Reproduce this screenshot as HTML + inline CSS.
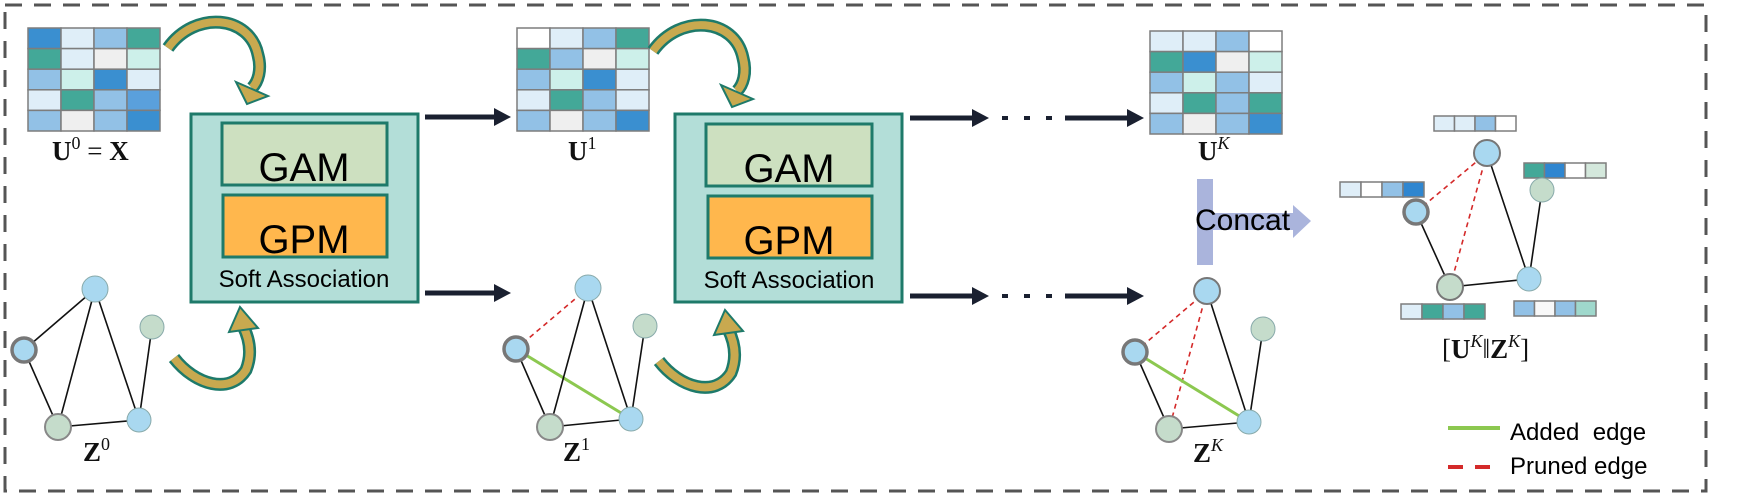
<!DOCTYPE html>
<html><head><meta charset="utf-8"><style>
html,body{margin:0;padding:0;background:#fff;}
svg{display:block}
.m{font-family:"Liberation Serif",serif;font-size:27px;font-weight:bold;fill:#111}
.s{font-family:"Liberation Serif",serif;font-size:18px;font-weight:normal;font-style:normal}
.si{font-family:"Liberation Serif",serif;font-size:18px;font-style:italic;font-weight:normal}
.t{font-family:"Liberation Sans",sans-serif;fill:#000}
</style></head><body>
<svg width="1738" height="498" viewBox="0 0 1738 498" xmlns="http://www.w3.org/2000/svg">
<rect x="5" y="5" width="1701" height="486" fill="none" stroke="#555" stroke-width="3" stroke-dasharray="17,12"/>

<g stroke="#7d7d7d" stroke-width="1.5">
<g transform="translate(28,28)">
<rect x="0" y="0" width="33" height="20.6" fill="#3a8fd0"/><rect x="33" y="0" width="33" height="20.6" fill="#dfeef8"/><rect x="66" y="0" width="33" height="20.6" fill="#92c1e6"/><rect x="99" y="0" width="33" height="20.6" fill="#43a898"/>
<rect x="0" y="20.6" width="33" height="20.6" fill="#43a898"/><rect x="33" y="20.6" width="33" height="20.6" fill="#dfeef8"/><rect x="66" y="20.6" width="33" height="20.6" fill="#efefef"/><rect x="99" y="20.6" width="33" height="20.6" fill="#cdf0ea"/>
<rect x="0" y="41.2" width="33" height="20.6" fill="#92c1e6"/><rect x="33" y="41.2" width="33" height="20.6" fill="#cdf0ea"/><rect x="66" y="41.2" width="33" height="20.6" fill="#3a8fd0"/><rect x="99" y="41.2" width="33" height="20.6" fill="#dfeef8"/>
<rect x="0" y="61.8" width="33" height="20.6" fill="#dfeef8"/><rect x="33" y="61.8" width="33" height="20.6" fill="#43a898"/><rect x="66" y="61.8" width="33" height="20.6" fill="#92c1e6"/><rect x="99" y="61.8" width="33" height="20.6" fill="#5aa0dc"/>
<rect x="0" y="82.4" width="33" height="20.6" fill="#92c1e6"/><rect x="33" y="82.4" width="33" height="20.6" fill="#efefef"/><rect x="66" y="82.4" width="33" height="20.6" fill="#92c1e6"/><rect x="99" y="82.4" width="33" height="20.6" fill="#3a8fd0"/>
</g>
<g transform="translate(517,28)">
<rect x="0" y="0" width="33" height="20.6" fill="#ffffff"/><rect x="33" y="0" width="33" height="20.6" fill="#dfeef8"/><rect x="66" y="0" width="33" height="20.6" fill="#92c1e6"/><rect x="99" y="0" width="33" height="20.6" fill="#43a898"/>
<rect x="0" y="20.6" width="33" height="20.6" fill="#43a898"/><rect x="33" y="20.6" width="33" height="20.6" fill="#92c1e6"/><rect x="66" y="20.6" width="33" height="20.6" fill="#efefef"/><rect x="99" y="20.6" width="33" height="20.6" fill="#cdf0ea"/>
<rect x="0" y="41.2" width="33" height="20.6" fill="#92c1e6"/><rect x="33" y="41.2" width="33" height="20.6" fill="#cdf0ea"/><rect x="66" y="41.2" width="33" height="20.6" fill="#3a8fd0"/><rect x="99" y="41.2" width="33" height="20.6" fill="#dfeef8"/>
<rect x="0" y="61.8" width="33" height="20.6" fill="#dfeef8"/><rect x="33" y="61.8" width="33" height="20.6" fill="#43a898"/><rect x="66" y="61.8" width="33" height="20.6" fill="#92c1e6"/><rect x="99" y="61.8" width="33" height="20.6" fill="#dfeef8"/>
<rect x="0" y="82.4" width="33" height="20.6" fill="#92c1e6"/><rect x="33" y="82.4" width="33" height="20.6" fill="#efefef"/><rect x="66" y="82.4" width="33" height="20.6" fill="#92c1e6"/><rect x="99" y="82.4" width="33" height="20.6" fill="#3a8fd0"/>
</g>
<g transform="translate(1150,31)">
<rect x="0" y="0" width="33" height="20.6" fill="#dfeef8"/><rect x="33" y="0" width="33" height="20.6" fill="#dfeef8"/><rect x="66" y="0" width="33" height="20.6" fill="#92c1e6"/><rect x="99" y="0" width="33" height="20.6" fill="#ffffff"/>
<rect x="0" y="20.6" width="33" height="20.6" fill="#43a898"/><rect x="33" y="20.6" width="33" height="20.6" fill="#3a8fd0"/><rect x="66" y="20.6" width="33" height="20.6" fill="#efefef"/><rect x="99" y="20.6" width="33" height="20.6" fill="#cdf0ea"/>
<rect x="0" y="41.2" width="33" height="20.6" fill="#92c1e6"/><rect x="33" y="41.2" width="33" height="20.6" fill="#cdf0ea"/><rect x="66" y="41.2" width="33" height="20.6" fill="#92c1e6"/><rect x="99" y="41.2" width="33" height="20.6" fill="#dfeef8"/>
<rect x="0" y="61.8" width="33" height="20.6" fill="#dfeef8"/><rect x="33" y="61.8" width="33" height="20.6" fill="#43a898"/><rect x="66" y="61.8" width="33" height="20.6" fill="#92c1e6"/><rect x="99" y="61.8" width="33" height="20.6" fill="#43a898"/>
<rect x="0" y="82.4" width="33" height="20.6" fill="#92c1e6"/><rect x="33" y="82.4" width="33" height="20.6" fill="#efefef"/><rect x="66" y="82.4" width="33" height="20.6" fill="#92c1e6"/><rect x="99" y="82.4" width="33" height="20.6" fill="#3a8fd0"/>
</g>
<g transform="translate(1434,116)"><rect width="20.5" height="15" fill="#dfeef8"/><rect x="20.5" width="20.5" height="15" fill="#dfeef8"/><rect x="41" width="20.5" height="15" fill="#92c1e6"/><rect x="61.5" width="20.5" height="15" fill="#fff"/></g>
<g transform="translate(1340,182)"><rect width="21" height="15" fill="#dfeef8"/><rect x="21" width="21" height="15" fill="#fff"/><rect x="42" width="21" height="15" fill="#92c1e6"/><rect x="63" width="21" height="15" fill="#2f86d0"/></g>
<g transform="translate(1524,163)"><rect width="20.5" height="15" fill="#43a898"/><rect x="20.5" width="20.5" height="15" fill="#2f86d0"/><rect x="41" width="20.5" height="15" fill="#fff"/><rect x="61.5" width="20.5" height="15" fill="#d4e8dc"/></g>
<g transform="translate(1401,304)"><rect width="21" height="15" fill="#dfeef8"/><rect x="21" width="21" height="15" fill="#43a898"/><rect x="42" width="21" height="15" fill="#92c1e6"/><rect x="63" width="21" height="15" fill="#43a898"/></g>
<g transform="translate(1514,301)"><rect width="20.5" height="15" fill="#92c1e6"/><rect x="20.5" width="20.5" height="15" fill="#f8f8f8"/><rect x="41" width="20.5" height="15" fill="#92c1e6"/><rect x="61.5" width="20.5" height="15" fill="#9fd8cc"/></g>
</g>

<text class="m" x="52" y="160">U<tspan class="s" dy="-11">0</tspan><tspan dy="11" font-weight="normal"> = </tspan>X</text>
<text class="m" x="568" y="160">U<tspan class="s" dy="-11">1</tspan></text>
<text class="m" x="1198" y="160">U<tspan class="si" dy="-11">K</tspan></text>
<text class="m" x="83" y="461">Z<tspan class="s" dy="-11">0</tspan></text>
<text class="m" x="563" y="461">Z<tspan class="s" dy="-11">1</tspan></text>
<text class="m" x="1193" y="462">Z<tspan class="si" dy="-11">K</tspan></text>
<text class="m" x="1442" y="358"><tspan font-weight="normal">[</tspan>U<tspan class="si" dy="-11">K</tspan><tspan dy="11" font-weight="normal">‖</tspan>Z<tspan class="si" dy="-11">K</tspan><tspan dy="11" font-weight="normal">]</tspan></text>

<g>
<rect x="191" y="114" width="227" height="188" fill="#b3ded8" stroke="#1e7a6a" stroke-width="3"/>
<rect x="222" y="123" width="165" height="62" fill="#cde0c0" stroke="#1e7a6a" stroke-width="3"/>
<rect x="223" y="195" width="164" height="62" fill="#ffb74d" stroke="#1e7a6a" stroke-width="3"/>
<text class="t" x="304" y="181" font-size="40" text-anchor="middle">GAM</text>
<text class="t" x="304" y="253" font-size="40" text-anchor="middle">GPM</text>
<text class="t" x="304" y="287" font-size="24" text-anchor="middle">Soft Association</text>
</g>
<g>
<rect x="675" y="114" width="227" height="188" fill="#b3ded8" stroke="#1e7a6a" stroke-width="3"/>
<rect x="706" y="124" width="166" height="62" fill="#cde0c0" stroke="#1e7a6a" stroke-width="3"/>
<rect x="708" y="196" width="164" height="62" fill="#ffb74d" stroke="#1e7a6a" stroke-width="3"/>
<text class="t" x="789" y="182" font-size="40" text-anchor="middle">GAM</text>
<text class="t" x="789" y="254" font-size="40" text-anchor="middle">GPM</text>
<text class="t" x="789" y="288" font-size="24" text-anchor="middle">Soft Association</text>
</g>

<g id="ca" fill="none">
<g>
<path d="M168,48 C195,10 250,15 258,55 C262,70 258,82 252,88" stroke="#1e7a6a" stroke-width="13"/>
<path d="M168,48 C195,10 250,15 258,55 C262,70 258,82 252,88" stroke="#c8a94f" stroke-width="8"/>
<polygon points="236,82 268,96 247,104" fill="#c8a94f" stroke="#1e7a6a" stroke-width="2"/>
</g>
<g>
<path d="M174,358 C195,385 230,395 246,370 C252,355 250,340 243,326" stroke="#1e7a6a" stroke-width="13"/>
<path d="M174,358 C195,385 230,395 246,370 C252,355 250,340 243,326" stroke="#c8a94f" stroke-width="8"/>
<polygon points="229,332 240,307 258,328" fill="#c8a94f" stroke="#1e7a6a" stroke-width="2"/>
</g>
</g>
<use href="#ca" transform="translate(485,3)"/>

<g stroke="#1a2030" stroke-width="5" fill="#1a2030">
<line x1="425" y1="117" x2="496" y2="117"/><polygon points="494,108 511,117 494,126" stroke="none"/>
<line x1="425" y1="293" x2="496" y2="293"/><polygon points="494,284 511,293 494,302" stroke="none"/>
<line x1="910" y1="118" x2="975" y2="118"/><polygon points="972,109 989,118 972,127" stroke="none"/>
<line x1="910" y1="296" x2="975" y2="296"/><polygon points="972,287 989,296 972,305" stroke="none"/>
<line x1="1065" y1="118" x2="1130" y2="118"/><polygon points="1127,109 1144,118 1127,127" stroke="none"/>
<line x1="1065" y1="296" x2="1130" y2="296"/><polygon points="1127,287 1144,296 1127,305" stroke="none"/>
<line x1="1002" y1="118" x2="1052" y2="118" stroke-dasharray="6,16" stroke-width="4"/>
<line x1="1002" y1="296" x2="1052" y2="296" stroke-dasharray="6,16" stroke-width="4"/>
</g>

<rect x="1197" y="179" width="16" height="86" fill="#aab4dc"/>
<polygon points="1213,213 1293,213 1293,205 1311,221 1293,238 1293,230 1213,230" fill="#aab4dc"/>
<text class="t" x="1195" y="230" font-size="30">Concat</text>

<g stroke-width="1.6">
<g stroke="#111"><line x1="24" y1="350" x2="95" y2="289"/><line x1="24" y1="350" x2="58" y2="427"/><line x1="95" y1="289" x2="58" y2="427"/><line x1="95" y1="289" x2="139" y2="420"/><line x1="58" y1="427" x2="139" y2="420"/><line x1="152" y1="327" x2="139" y2="420"/></g>
<line x1="516" y1="349" x2="588" y2="288" stroke="#d42a2a" stroke-dasharray="5,4"/>
<line x1="516" y1="349" x2="631" y2="419" stroke="#8cc850" stroke-width="3"/>
<g stroke="#111"><line x1="516" y1="349" x2="550" y2="427"/><line x1="588" y1="288" x2="550" y2="427"/><line x1="588" y1="288" x2="631" y2="419"/><line x1="550" y1="427" x2="631" y2="419"/><line x1="645" y1="326" x2="631" y2="419"/></g>
<line x1="1135" y1="352" x2="1207" y2="291" stroke="#d42a2a" stroke-dasharray="5,4"/>
<line x1="1207" y1="291" x2="1169" y2="429" stroke="#d42a2a" stroke-dasharray="5,4"/>
<line x1="1135" y1="352" x2="1249" y2="422" stroke="#8cc850" stroke-width="3"/>
<g stroke="#111"><line x1="1135" y1="352" x2="1169" y2="429"/><line x1="1207" y1="291" x2="1249" y2="422"/><line x1="1169" y1="429" x2="1249" y2="422"/><line x1="1263" y1="329" x2="1249" y2="422"/></g>
<line x1="1416" y1="212" x2="1487" y2="153" stroke="#d42a2a" stroke-dasharray="5,4"/>
<line x1="1487" y1="153" x2="1450" y2="287" stroke="#d42a2a" stroke-dasharray="5,4"/>
<g stroke="#111"><line x1="1416" y1="212" x2="1450" y2="287"/><line x1="1487" y1="153" x2="1529" y2="279"/><line x1="1450" y1="287" x2="1529" y2="279"/><line x1="1542" y1="190" x2="1529" y2="279"/></g>
</g>
<g stroke="#8aa" stroke-width="1">
<circle cx="95" cy="289" r="13" fill="#a9d8f0"/><circle cx="24" cy="350" r="12" fill="#a9d8f0" stroke="#777" stroke-width="3.5"/><circle cx="58" cy="427" r="13" fill="#c5dccb" stroke="#888" stroke-width="2"/><circle cx="139" cy="420" r="12" fill="#a9d8f0"/><circle cx="152" cy="327" r="12" fill="#c5dccb"/>
<circle cx="588" cy="288" r="13" fill="#a9d8f0"/><circle cx="516" cy="349" r="12" fill="#a9d8f0" stroke="#777" stroke-width="3.5"/><circle cx="550" cy="427" r="13" fill="#c5dccb" stroke="#888" stroke-width="2"/><circle cx="631" cy="419" r="12" fill="#a9d8f0"/><circle cx="645" cy="326" r="12" fill="#c5dccb"/>
<circle cx="1207" cy="291" r="13" fill="#a9d8f0" stroke="#777" stroke-width="2"/><circle cx="1135" cy="352" r="12" fill="#a9d8f0" stroke="#777" stroke-width="3.5"/><circle cx="1169" cy="429" r="13" fill="#c5dccb" stroke="#888" stroke-width="2"/><circle cx="1249" cy="422" r="12" fill="#a9d8f0"/><circle cx="1263" cy="329" r="12" fill="#c5dccb"/>
<circle cx="1487" cy="153" r="13" fill="#a9d8f0" stroke="#777" stroke-width="2"/><circle cx="1416" cy="212" r="12" fill="#a9d8f0" stroke="#777" stroke-width="3.5"/><circle cx="1450" cy="287" r="13" fill="#c5dccb" stroke="#777" stroke-width="2"/><circle cx="1529" cy="279" r="12" fill="#a9d8f0"/><circle cx="1542" cy="190" r="12" fill="#c5dccb"/>
</g>

<line x1="1448" y1="428" x2="1500" y2="428" stroke="#8cc850" stroke-width="4"/>
<line x1="1448" y1="467" x2="1500" y2="467" stroke="#d42a2a" stroke-width="4" stroke-dasharray="15,12"/>
<text class="t" x="1510" y="440" font-size="24" xml:space="preserve">Added  edge</text>
<text class="t" x="1510" y="474" font-size="24">Pruned edge</text>
</svg>
</body></html>
